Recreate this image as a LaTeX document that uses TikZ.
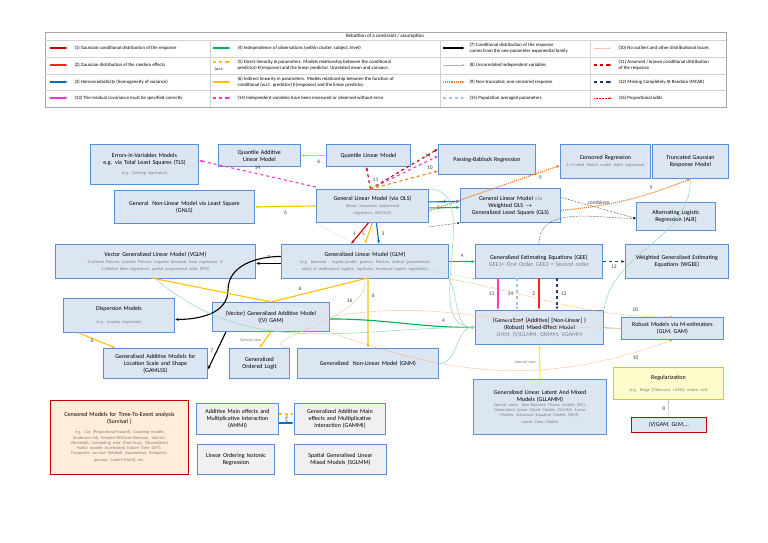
\documentclass[tikz,border=0pt]{standalone}
\usepackage{fontspec}
\setmainfont{Carlito}
\usetikzlibrary{arrows.meta}
\definecolor{bfill}{HTML}{DCE6F2}
\definecolor{bdraw}{HTML}{5B8FD9}
\definecolor{gtxt}{HTML}{7F7F7F}
\definecolor{cred}{HTML}{C00000}
\definecolor{cred2}{HTML}{FF2020}
\definecolor{cgreen}{HTML}{00B050}
\definecolor{lgreen}{HTML}{8FDBAF}
\definecolor{cblue}{HTML}{0070C0}
\definecolor{cyel}{HTML}{FFC000}
\definecolor{cmag}{HTML}{FF33CC}
\definecolor{corange}{HTML}{F47B20}
\definecolor{lorange}{HTML}{F8C8A8}
\definecolor{cnavy}{HTML}{1F3864}
\definecolor{lblue}{HTML}{9DC3E6}
\tikzset{
 box/.style={draw=bdraw,fill=bfill,line width=0.9pt,anchor=north west,align=center,inner sep=1pt,font=\fontsize{6}{7}\selectfont},
 gbox/.style={box,fill=gray!12},
 lab/.style={font=\fontsize{5.5}{6}\selectfont,text=black!75},
 lg/.style={font=\fontsize{4.8}{5.8}\selectfont,anchor=west,align=left},
 ar/.style={-{Latex[length=3.5pt,width=3pt]},line width=1.1pt},
 thin/.style={-{Latex[length=2.5pt,width=2pt]},line width=0.5pt},
}
\newcommand{\bx}[6][box]{\node[#1,minimum width=#4,minimum height=#5,text width=#4-4pt] (#2) at #3 {#6};}
\begin{document}
\begin{tikzpicture}[x=1pt,y=-1pt]
\useasboundingbox (0,0) rectangle (768,543);
% legend
\draw[gray!70,line width=0.8pt] (45,32) rectangle (726,107);
\foreach \yy in {40,57,74,90} \draw[gray!35,line width=0.5pt] (45,\yy) -- (726,\yy);
\foreach \xx in {210,440,590} \draw[gray!35,line width=0.5pt] (\xx,40) -- (\xx,107);
\node[font=\fontsize{5}{6}\selectfont] (lt) at (385,36) {Rebuttion of a constraint / assumption};
\coordinate (a1) at (50,48); \coordinate (b1) at (68,48); \draw[ar,cred] (a1) -- (b1);
\node[lg] (t1) at (71,48) {(1) Gaussian conditional distribution of the response};
\coordinate (a2) at (50,65); \coordinate (b2) at (68,65); \draw[ar,cred2] (a2) -- (b2);
\node[lg] (t2) at (71,65) {(2) Gaussian distribution of the random effects};
\coordinate (a3) at (50,82); \coordinate (b3) at (68,82); \draw[ar,cblue] (a3) -- (b3);
\node[lg] (t3) at (71,82) {(3) Homoscedasticity (homogeneity of variance)};
\coordinate (a4) at (50,98); \coordinate (b4) at (68,98); \draw[ar,cmag] (a4) -- (b4);
\node[lg] (t4) at (71,98) {(13) The residual covariance must be specified correctly};
\coordinate (a5) at (213,48); \coordinate (b5) at (231,48); \draw[ar,cgreen] (a5) -- (b5);
\node[lg] (t5) at (234,48) {(4) Independence of observations (within cluster, subject, level)};
\coordinate (a6) at (213,62); \coordinate (b6) at (231,62); \draw[ar,cyel,dashed] (a6) -- (b6);
\node[lg,font=\fontsize{4}{5}\selectfont] (t6w) at (211,69) {(w.r.t.};
\node[lg] (t6) at (234,65) {(5) Direct linearity in parameters. Models relationship between the conditional\\predictor) E(response) and the linear predictor. Unrelated mean and variance.};
\coordinate (a7) at (213,82); \coordinate (b7) at (231,82); \draw[ar,cyel] (a7) -- (b7);
\node[lg] (t7) at (234,82) {(6) Indirect linearity in parameters. Models relationship between the function of\\conditional (w.r.t. predictor) E(response) and the linear predictor.};
\coordinate (a8) at (213,98); \coordinate (b8) at (231,98); \draw[ar,cmag,dashed] (a8) -- (b8);
\node[lg] (t8) at (234,98) {(14) Independent variables have been measured or observed without error};
\coordinate (a9) at (443,48); \coordinate (b9) at (465,48); \draw[ar,black] (a9) -- (b9);
\node[lg] (t9) at (466,48) {(7) Conditional distribution of the response\\comes from the one-parameter exponential family};
\coordinate (a10) at (443,65); \coordinate (b10) at (465,65); \draw[thin,gray!60] (a10) -- (b10);
\node[lg] (t10) at (466,65) {(8) Uncorrelated independent variables};
\coordinate (a11) at (443,82); \coordinate (b11) at (465,82); \draw[ar,corange,densely dotted] (a11) -- (b11);
\node[lg] (t11) at (466,82) {(9) Non-truncated, non-censored response};
\coordinate (a12) at (443,98); \coordinate (b12) at (465,98); \draw[ar,lblue,dashed] (a12) -- (b12);
\node[lg] (t12) at (466,98) {(15) Population averaged parameters};
\coordinate (a13) at (594,48); \coordinate (b13) at (612,48); \draw[thin,lorange] (a13) -- (b13);
\node[lg] (t13) at (615,48) {(10) No outliers and other distributional issues};
\coordinate (a14) at (594,65); \coordinate (b14) at (612,65); \draw[ar,cred,dashed] (a14) -- (b14);
\node[lg] (t14) at (615,65) {(11) Assumed / known conditional distribution\\of the response};
\coordinate (a15) at (594,82); \coordinate (b15) at (612,82); \draw[ar,cnavy,dashed] (a15) -- (b15);
\node[lg] (t15) at (615,82) {(12) Missing Completely At Random (MCAR)};
\coordinate (a16) at (594,98); \coordinate (b16) at (612,98); \draw[thin,red,densely dotted] (a16) -- (b16);
\node[lg] (t16) at (615,98) {(16) Proportional odds};
% boxes
\bx{tls}{(90,144)}{108pt}{40pt}{Errors-in-Variables Models\\e.g. via Total Least Squares (TLS)\\[3pt]{\fontsize{4.3}{5}\selectfont\color{gtxt}(e.g. Deming regression)}}
\bx{qad}{(218,144)}{82pt}{22pt}{Quantile Additive\\Linear Model}
\bx{qlm}{(326,144)}{84pt}{22pt}{Quantile Linear Model}
\bx{pb}{(438,144)}{97pt}{30pt}{Passing-Bablock Regression}
\bx{cens}{(560,144)}{90pt}{34pt}{Censored Regression\\{\fontsize{4.3}{5}\selectfont\color{gtxt}1-/2-sided Tobin's model (tobit regression)}}
\bx{trunc}{(652,144)}{76pt}{34pt}{Truncated Gaussian\\Response Model}
\bx{gnls}{(114,190)}{140pt}{33pt}{General\ \ Non-Linear Model via Least Square\\(GNLS)}
\bx{ols}{(316,189)}{112pt}{33pt}{General Linear Model (via OLS)\\[2pt]{\fontsize{4.3}{5}\selectfont\color{gtxt}(linear, linearized, polynomial\\regression, ANCOVA)}}
\bx{gls}{(460,188)}{100pt}{34pt}{General Linear Model {\color{gtxt}via}\\Weighted OLS $\rightarrow$\\Generalized Least Square (GLS)}
\bx{alr}{(636,202)}{79pt}{28pt}{Alternating Logistic\\Regression (ALR)}
\bx{vglm}{(55,244)}{200pt}{34pt}{Vector Generalized Linear Model (VGLM)\\[2pt]{\fontsize{4.3}{5}\selectfont\color{gtxt},0-altered Poisson, positive Poisson, negative binomial,\ beta regression, 0-\\1-inflated beta regression), partial proportional odds (PPO)}}
\bx{glm}{(281,244)}{167pt}{34pt}{Generalized Linear Model (GLM)\\[2pt]{\fontsize{4.3}{5}\selectfont\color{gtxt}(e.g. binomial : logistic/probit, gamma, Poisson, ordinal (proportional\\odds) \& multinomial logistic, log-linear, fractional logistic regression)}}
\bx{gee}{(475,244)}{127pt}{34pt}{Generalized Estimating Equations (GEE)\\{\color{gtxt}GEE1= First Order, GEE2 = Second order}}
\bx{wgee}{(625,244)}{103pt}{34pt}{Weighted Generalized Estimating\\Equations (WGEE)}
\bx{disp}{(63,298)}{111pt}{34pt}{Dispersion Models\\[6pt]{\fontsize{4.3}{5}\selectfont\color{gtxt}(e.g. simplex regression)}}
\bx{vgam}{(212,302)}{117pt}{29pt}{(Vector) Generalized Additive Model\\((V) GAM)}
\bx{gamlss}{(103,348)}{104pt}{30pt}{Generalised Additive Models for\\Location Scale and Shape\\(GAMLSS)}
\bx{gol}{(229,348)}{60pt}{30pt}{Generalized\\Ordered Logit}
\bx{gnm}{(297,348)}{141pt}{30pt}{Generalized\ \ Non-Linear Model (GNM)}
\bx{mix}{(475,310)}{128pt}{34pt}{(Generalized [Additive] [Non-Linear] )\\(Robust) Mixed-Effect Model\\{\color{gtxt}LMM, (V)GLMM, GNMM, VGAMM}}
\bx{rob}{(621,317)}{102pt}{22pt}{Robust Models via M-estimators\\(GLM, GAM)}
\node[box,draw=yellow!50!brown,fill=yellow!20,minimum width=110pt,minimum height=32pt,text width=106pt] (reg) at (613,367) {Regularization\\[5pt]{\fontsize{4.3}{5}\selectfont\color{gtxt}(e.g. Ridge (Tikhonov), LASSO, elastic net)}};
\bx{gll}{(473,379)}{133pt}{55pt}{Generalized Linear Latent And Mixed\\Models (GLLAMM)\\{\fontsize{4.3}{5.2}\selectfont\color{gtxt}Special cases: Item-Reponse Theory models (IRT),\\Generalized Linear Mixed Models (GLMM), Factor\\Models, Structural Equation Models (SEM),\\Latent Class Models}}
\node[box,draw=red!80!black,minimum width=75pt,minimum height=15pt,text width=71pt] (vg) at (631,417) {\itshape (V)GAM, GLM,...};
\node[box,draw=red!75!black,fill=orange!15,minimum width=138pt,minimum height=74pt,text width=132pt] (surv) at (50,400) {Censored Models for Time-To-Event analysis\\(Survival )\\[5pt]{\fontsize{4.3}{5.3}\selectfont\color{gtxt}e.g. Cox (Proportional-hazard), Counting models\\(Anderson-Gill, Prentice-Williams-Peterson, Wei-Lin-\\Weissfeld), Competing risks (Fine-Gray), (Shared)Joint\\Frailty models Accelerated Failure Time (AFT),\\Parametric survival (Weibull, Exponential, Gompertz,\\gamma, Coale-McNeil), etc.}};
\bx[gbox]{ammi}{(196,403)}{82pt}{31pt}{Additive Main effects and\\Multiplicative Interaction\\(AMMI)}
\bx[gbox]{gammi}{(294,403)}{91pt}{31pt}{Generalized Additive Main\\effects and Multiplicative\\Interaction (GAMMI)}
\bx[gbox]{iso}{(197,444)}{77pt}{30pt}{Linear Ordering Isotonic\\Regression}
\bx[gbox]{sglmm}{(294,444)}{92pt}{30pt}{Spatial Generalised Linear\\Mixed Models (SGLMM)}
% connectors
\draw[ar,cyel] (qlm.west) -- node[lab,below right]{6} (qad.east);
\draw[ar,cred,dashed] ([xshift=-2pt]ols.north) -- ([xshift=-2pt]qlm.south) node[lab,pos=0.4,right]{11};
\draw[ar,cred,dashed] ([xshift=-2pt]ols.north) -- ([yshift=-5pt]pb.north west);
\draw[ar,cmag,dashed] ([xshift=-2pt]ols.north) -- ([yshift=-12pt]pb.north west) node[lab,pos=0.85,above]{14};
\draw[ar,corange,dashed] ([xshift=-2pt]ols.north) -- ([yshift=-27pt]pb.north west) node[lab,pos=0.88,above]{10};
\draw[ar,cmag,dashed] ([yshift=2pt]ols.north west) -- node[lab,above]{14} ([yshift=4pt]tls.east);
\draw[ar,cyel] (ols.west) -- node[lab,below]{6} (gnls.east);
\draw[ar,cgreen] ([yshift=-2pt]ols.east) -- node[lab,above]{4} ([yshift=-2pt]gls.west);
\draw[ar,cblue] ([yshift=4pt]ols.east) -- node[lab,below,pos=0.3]{3} ([yshift=4pt]gls.west);
\draw[ar,corange,densely dotted] ([yshift=-5pt]ols.east) -- node[lab,below,pos=0.85]{9} ([yshift=-4pt]cens.west);
\draw[ar,corange,densely dotted] ([yshift=-5pt]gls.east) to[bend right=8] node[lab,above,pos=0.7]{9} (trunc.south);
\draw[thin,black,densely dotted] ([yshift=8pt]gls.east) -- node[lab,above]{combines} ([yshift=-2pt]alr.west);
\draw[thin,black,densely dotted] (gee.north) to[out=90,in=180] ([yshift=-2pt]alr.west);
\draw[thin,black,densely dotted] ([yshift=-4pt]ols.south east) -- (gls.south west);
\draw[ar,cred] ([xshift=-4pt]ols.south) -- node[lab,left]{1} ([xshift=-14pt]glm.north);
\draw[ar,cyel] ([xshift=0pt]ols.south) -- node[lab,left,pos=0.5]{5} ([xshift=0pt]glm.north);
\draw[ar,cblue] ([xshift=4pt]ols.south) -- node[lab,right]{3} ([xshift=14pt]glm.north);
\draw[ar,black] ([yshift=-2pt]glm.west) -- node[lab,above]{7} ([yshift=-2pt]vglm.east);
\draw[ar,black] ([yshift=5pt]glm.west) to[out=180,in=90] (228,290) to[out=-90,in=0] ([yshift=-4pt]disp.east);
\draw[ar,cgreen] (glm.east) -- node[lab,above]{4} (gee.west);
\draw[ar,cnavy,dashed] (gee.east) -- node[lab,below]{12} (wgee.west);
\draw[ar,cmag] (498,278) -- node[lab,left]{13} (498,310);
\draw[ar,lblue,dashed] (517,278) -- node[lab,left]{14} (517,310);
\draw[ar,cred2] (539,278) -- node[lab,left]{2} (539,310);
\draw[ar,cnavy,dashed] (557,278) -- node[lab,right]{12} (557,310);
\draw[ar,cyel] (368,278) -- node[lab,above,pos=0.7]{6} (vgam.north);
\draw[ar,cyel] (152,278) -- (vgam.north);
\draw[ar,cyel] (368,278) -- node[lab,right,pos=0.25]{6} (gnm.north);
\draw[ar,cyel] (vgam.south) -- node[lab,left,font=\fontsize{4.3}{5}\selectfont,text=gtxt]{Special case} (gol.north);
\draw[ar,black] ([xshift=-45pt]vgam.south) -- node[lab,left]{7} ([yshift=-6pt]gamlss.east);
\draw[ar,cyel] ([xshift=-40pt]disp.south) -- node[lab,left]{6} ([xshift=-40pt]gamlss.north);
\draw[thin,lorange] (glm.south) to[out=-80,in=170] node[lab,pos=0.2,left]{16} (gol.north east);
\draw[ar,cgreen] ([yshift=-2pt]vgam.east) to[out=0,in=180] node[lab,above,pos=0.8]{4} (mix.west);
\draw[thin,lgreen] (glm.south east) to[out=-60,in=180] (mix.west);
\draw[thin,lgreen] (vglm.south) to[out=-40,in=180] (mix.west);
\draw[thin,lgreen] (gnm.east) to[out=0,in=180] (mix.west);
\draw[thin,lgreen] (ols.north east) to[out=0,in=180] (mix.west);
\draw[thin,lgreen] (trunc.south) to[out=-90,in=80] (mix.north east);
\draw[thin,lgreen] (rob.west) -- (mix.east);
\draw[thin,lgreen,densely dotted] (ols.south west) to[out=-30,in=170] (gee.south west);
\draw[thin,corange,densely dotted] (glm.south east) to[out=-10,in=180] node[lab,above,pos=0.85]{10} (rob.north);
\draw[thin,corange,densely dotted] (vgam.south east) to[out=-20,in=-160] node[lab,below,pos=0.9]{10} (rob.south);
\draw[thin,lorange] (vgam.east) to[out=10,in=180] (rob.west);
\draw[ar,yellow] (gll.north) -- node[lab,left,font=\fontsize{4.3}{5}\selectfont,text=gtxt]{Special case} (mix.south);
\draw[ar,cblue] ([yshift=-4pt]ammi.east) -- node[lab,above=1pt]{3} ([yshift=-4pt]gammi.west);
\draw[ar,cyel,dashed] ([yshift=5pt]ammi.east) -- node[lab,below=1pt]{5} ([yshift=5pt]gammi.west);
\draw[thin,gray!60] (vg.north) -- node[lab,left]{8} (reg.south);
\end{tikzpicture}
\end{document}
